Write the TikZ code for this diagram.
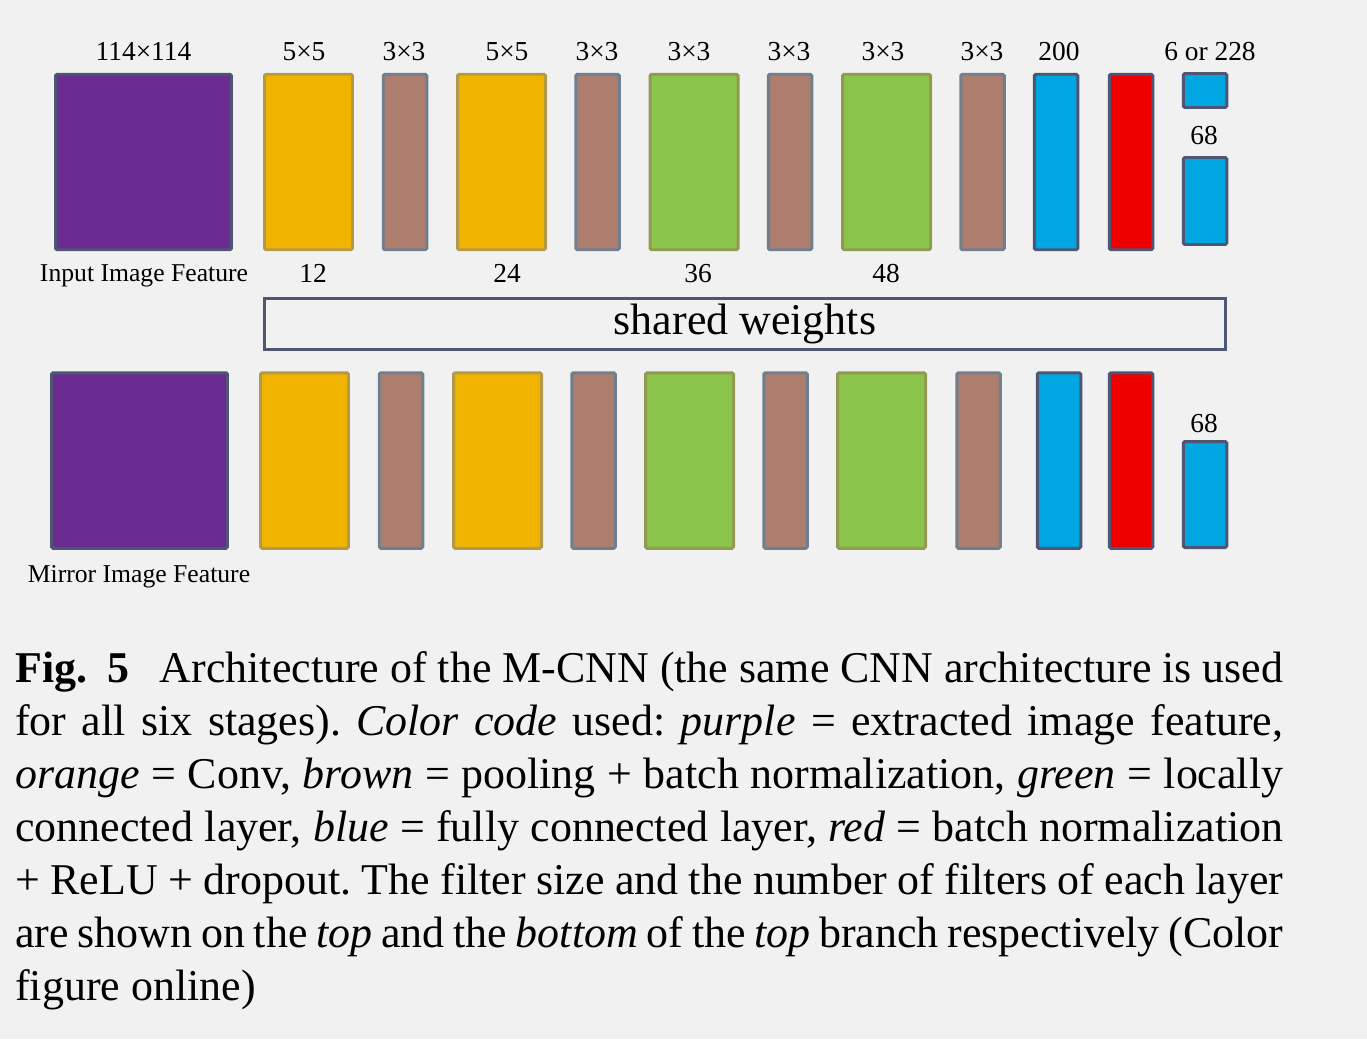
\documentclass[tikz,border=0pt]{standalone}
\usepackage{fontspec}
\setmainfont{Liberation Serif}
\usepackage{tikz}
\usetikzlibrary{positioning}
\usepackage{xcolor}
\frenchspacing

\definecolor{bgcol}{HTML}{F1F1F1}
\definecolor{edgedark}{HTML}{4E5674}
\definecolor{purplefill}{HTML}{6A2C91}
\definecolor{orangefill}{HTML}{F0B400}
\definecolor{orangeedge}{HTML}{B39A48}
\definecolor{brownfill}{HTML}{AD7E6D}
\definecolor{brownedge}{HTML}{6E8090}
\definecolor{greenfill}{HTML}{8BC54B}
\definecolor{greenedge}{HTML}{929A52}
\definecolor{bluefill}{HTML}{00A6E1}
\definecolor{redfill}{HTML}{EE0000}

\begin{document}
\begin{tikzpicture}[
	layer/.style={rectangle,draw,line width=1.7pt,rounded corners=0.8pt,inner sep=0pt,minimum height=3.51cm},
	featbox/.style={layer,fill=purplefill,draw=edgedark,minimum width=3.52cm},
	convbox/.style={layer,fill=orangefill,draw=orangeedge,minimum width=1.76cm},
	poolbox/.style={layer,fill=brownfill,draw=brownedge,minimum width=0.87cm},
	localbox/.style={layer,fill=greenfill,draw=greenedge,minimum width=1.76cm},
	fcbox/.style={layer,fill=bluefill,draw=edgedark,minimum width=0.87cm},
	reluboxx/.style={layer,fill=redfill,draw=edgedark,minimum width=0.87cm},
	numlbl/.style={anchor=base,inner sep=0pt,font=\fontsize{15.6}{18}\selectfont},
	namelbl/.style={anchor=base,inner sep=0pt,font=\fontsize{14.6}{17}\selectfont}
]
\fill[bgcol] (0,0) rectangle (27.34,-20.78);
\useasboundingbox (0,0) rectangle (27.34,-20.78);

% top branch
\node[featbox] (inA) at (2.87,-3.24) {};
\node[convbox] (convA1) at (6.17,-3.24) {};
\node[poolbox] (poolA1) at (8.10,-3.24) {};
\node[convbox] (convA2) at (10.03,-3.24) {};
\node[poolbox] (poolA2) at (11.95,-3.24) {};
\node[localbox] (locA1) at (13.88,-3.24) {};
\node[poolbox] (poolA3) at (15.80,-3.24) {};
\node[localbox] (locA2) at (17.73,-3.24) {};
\node[poolbox] (poolA4) at (19.65,-3.24) {};
\node[fcbox] (fcA) at (21.12,-3.24) {};
\node[reluboxx] (reluA) at (22.62,-3.24) {};
\node[fcbox,minimum height=0.68cm] (outA1) at (24.10,-1.81) {};
\node[fcbox,minimum height=1.74cm] (outA2) at (24.10,-4.02) {};

% bottom branch
\node[featbox] (inB) at (2.79,-9.21) {};
\node[convbox] (convB1) at (6.09,-9.21) {};
\node[poolbox] (poolB1) at (8.02,-9.21) {};
\node[convbox] (convB2) at (9.95,-9.21) {};
\node[poolbox] (poolB2) at (11.87,-9.21) {};
\node[localbox] (locB1) at (13.79,-9.21) {};
\node[poolbox] (poolB3) at (15.71,-9.21) {};
\node[localbox] (locB2) at (17.63,-9.21) {};
\node[poolbox] (poolB4) at (19.57,-9.21) {};
\node[fcbox] (fcB) at (21.18,-9.21) {};
\node[reluboxx] (reluB) at (22.62,-9.21) {};
\node[fcbox,minimum height=2.12cm] (outB) at (24.10,-9.89) {};

\node[draw=edgedark,line width=1.7pt,minimum width=19.22cm,minimum height=1.02cm,inner sep=0pt,
	font=\fontsize{25}{30}\selectfont] (shared) at (14.90,-6.48) {shared weights};

% filter sizes
\begin{scope}[every node/.style={numlbl}]
	\node (szIn) at (2.87,-1.20) {114×114};
	\node (szC1) at (6.08,-1.20) {5×5};
	\node (szP1) at (8.08,-1.20) {3×3};
	\node (szC2) at (10.14,-1.20) {5×5};
	\node (szP2) at (11.94,-1.20) {3×3};
	\node (szL1) at (13.78,-1.20) {3×3};
	\node (szP3) at (15.78,-1.20) {3×3};
	\node (szL2) at (17.66,-1.20) {3×3};
	\node (szP4) at (19.64,-1.20) {3×3};
	\node (szFc) at (21.18,-1.20) {200};
	\node (szOut1) at (24.20,-1.20) {6 or 228};
	\node (szOut2) at (24.08,-2.88) {68};
	\node (szOutB) at (24.08,-8.64) {68};
	% number of filters
	\node (nC1) at (6.26,-5.64) {12};
	\node (nC2) at (10.14,-5.64) {24};
	\node (nL1) at (13.96,-5.64) {36};
	\node (nL2) at (17.72,-5.64) {48};
\end{scope}

\node[namelbl] (inAname) at (2.88,-5.63) {Input Image Feature};
\node[namelbl] (inBname) at (2.78,-11.64) {Mirror Image Feature};

% caption
\node[anchor=base west,inner sep=0pt,text width=25.36cm,align=justify,
	font=\fontsize{25}{30.2}\selectfont] (caption) at (0.30,-13.64)
	{\textbf{Fig.\hspace{0.45em}5}\hspace{0.7em}Architecture of the M-CNN (the same CNN architecture is used\linebreak
	for all six stages). \textit{Color code} used: \textit{purple} = extracted image feature,\linebreak
	\textit{orange} = Conv, \textit{brown} = pooling + batch normalization, \textit{green} = locally\linebreak
	connected layer, \textit{blue} = fully connected layer, \textit{red} = batch normalization\linebreak
	+ ReLU + dropout. The filter size and the number of filters of each layer\linebreak
	are shown on the \textit{top} and the \textit{bottom} of the \textit{top} branch respectively (Color\linebreak
	figure online)};
\end{tikzpicture}
\end{document}
